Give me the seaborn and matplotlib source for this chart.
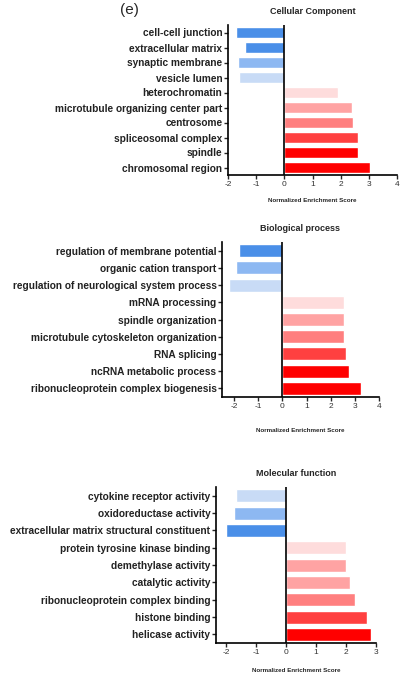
import matplotlib
matplotlib.use("Agg")
import matplotlib.pyplot as plt
import seaborn as sns
import pandas as pd

sns.set_style("white")
plt.rcParams['font.family'] = ['Liberation Sans', 'DejaVu Sans']

cc_terms = ["cell-cell junction", "extracellular matrix", "synaptic membrane", "vesicle lumen",
            "heterochromatin", "microtubule organizing center part", "centrosome",
            "spliceosomal complex", "spindle", "chromosomal region"]
cc_vals = [-1.7, -1.4, -1.65, -1.62, 1.9, 2.4, 2.45, 2.6, 2.62, 3.05]
cc_cols = ["#4a8fe8", "#4a8fe8", "#8db8f2", "#c8dbf6", "#fedcdc", "#ffa3a3", "#ff7f7f", "#ff4040", "#ff0000", "#ff0000"]

bp_terms = ["regulation of membrane potential", "organic cation transport",
            "regulation of neurological system process", "mRNA processing", "spindle organization",
            "microtubule cytoskeleton organization", "RNA splicing", "ncRNA metabolic process",
            "ribonucleoprotein complex biogenesis"]
bp_vals = [-1.8, -1.9, -2.2, 2.55, 2.55, 2.55, 2.65, 2.75, 3.25]
bp_cols = ["#4a8fe8", "#8db8f2", "#c8dbf6", "#fedcdc", "#ffa3a3", "#ff7f7f", "#ff4040", "#ff0000", "#ff0000"]

mf_terms = ["cytokine receptor activity", "oxidoreductase activity",
            "extracellular matrix structural constituent", "protein tyrosine kinase binding",
            "demethylase activity", "catalytic activity", "ribonucleoprotein complex binding",
            "histone binding", "helicase activity"]
mf_vals = [-1.65, -1.72, -2.0, 2.0, 2.0, 2.15, 2.3, 2.7, 2.85]
mf_cols = ["#c8dbf6", "#8db8f2", "#4a8fe8", "#fedcdc", "#ffa3a3", "#ffa3a3", "#ff7f7f", "#ff4040", "#ff0000"]

W, H = 400, 675
fig = plt.figure(figsize=(4, 6.75), dpi=100)

def panel(terms, vals, cols, title, rect_px, xlim, xticks, xlabel_y):
    l, t, r, b = rect_px
    ax = fig.add_axes([l / W, 1 - b / H, (r - l) / W, (b - t) / H])
    df = pd.DataFrame({"term": terms, "val": vals})
    sns.barplot(data=df, x="val", y="term", hue="term", palette=cols, legend=False,
                orient="h", width=0.75, ax=ax, saturation=1)
    ax.set_xlim(*xlim)
    ax.set_xticks(xticks)
    ax.set_xticklabels([str(v) for v in xticks], fontsize=6, color="#333333")
    ax.axvline(0, color="black", lw=1.2)
    for s in ["top", "right"]:
        ax.spines[s].set_visible(False)
    for s in ["left", "bottom"]:
        ax.spines[s].set_linewidth(1.2)
        ax.spines[s].set_color("black")
    ax.tick_params(axis="both", length=3, width=1, direction="out", left=True, bottom=True, pad=1)
    ax.set_yticks(range(len(terms)))
    ax.set_yticklabels(terms, fontsize=7.3, fontweight="bold", color="#222222")
    ax.set_ylabel("")
    ax.set_xlabel("")
    ax.set_title(title, fontsize=6.5, fontweight="bold", pad=8)
    fig.text((l + r) / 2 / W, 1 - xlabel_y / H, "Normalized Enrichment Score",
             fontsize=4.5, fontweight="bold", ha="center", va="center")
    return ax

panel(cc_terms, cc_vals, cc_cols, "Cellular Component", (228, 25, 397, 175), (-2, 4), [-2, -1, 0, 1, 2, 3, 4], 200)
panel(bp_terms, bp_vals, bp_cols, "Biological process", (222, 242, 379, 397), (-2.5, 4), [-2, -1, 0, 1, 2, 3, 4], 431)
panel(mf_terms, mf_vals, mf_cols, "Molecular function", (216, 487, 376, 643), (-2.33, 3), [-2, -1, 0, 1, 2, 3], 670)

fig.text(120 / W, 1 - 10 / H, "(e)", fontsize=11, ha="left", va="center")

fig.savefig("out.png", dpi=100, facecolor="white")
